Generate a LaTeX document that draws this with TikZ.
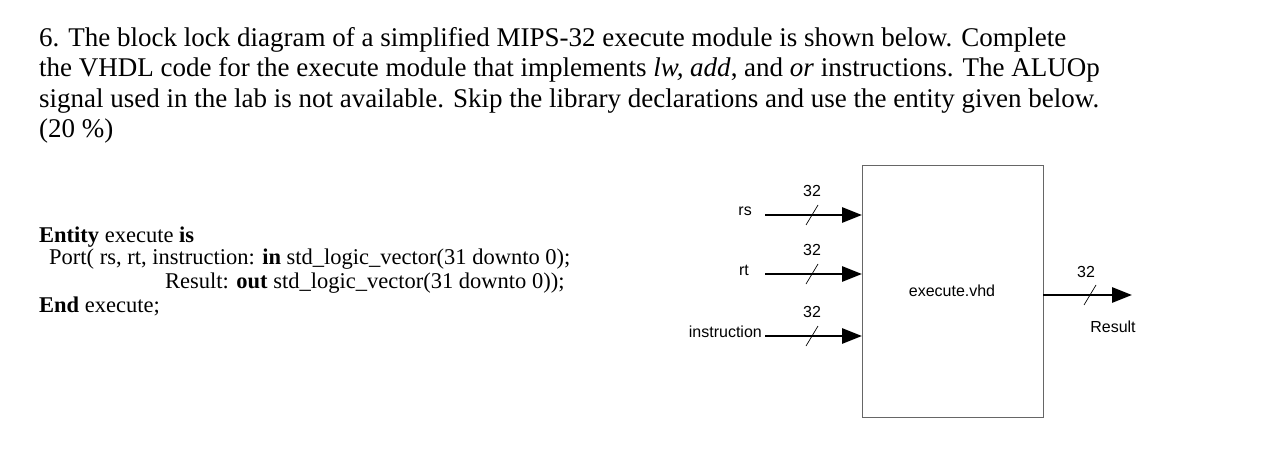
\documentclass[tikz,border=0pt]{standalone}
\usepackage{fontspec}
\setmainfont{Liberation Serif}
\setsansfont{Liberation Sans}
\usetikzlibrary{arrows.meta}
\begin{document}
\begin{tikzpicture}[x=1pt,y=-1pt,
  sig/.style={line width=2.8pt,-{Triangle[length=20pt,width=15pt]}},
  lab/.style={font=\sffamily\fontsize{16}{16}\selectfont,inner sep=1pt},
  code/.style={font=\fontsize{22.5}{22.5}\selectfont,anchor=base west,inner sep=0pt}]
\useasboundingbox (0,0) rectangle (1268,464);
\node[anchor=north west,inner sep=0pt,align=left,font=\fontsize{27}{30.5}\selectfont] (title) at (39,27)
{6. The block lock diagram of a simplified MIPS-32 execute module is shown below. Complete\\
the VHDL code for the execute module that implements \textit{lw, add}, and \textit{or} instructions. The ALUOp\\
signal used in the lab is not available. Skip the library declarations and use the entity given below.\\
(20 \%)};
\node[code] (c1) at (39,242) {\textbf{Entity} execute \textbf{is}};
\node[code] (c2) at (49,264) {Port( rs, rt, instruction: \textbf{in} std\_logic\_vector(31 downto 0);};
\node[code] (c3) at (165,288) {Result: \textbf{out} std\_logic\_vector(31 downto 0));};
\node[code] (c4) at (39,312) {\textbf{End} execute;};
\node[draw=black!60,line width=0.8pt,minimum width=181pt,minimum height=252pt,inner sep=0pt] (box) at (952.5,291) {};
\node[lab] at (952,291) {execute.vhd};
\foreach \n/\y/\t/\xl in {rs/215/rs/753, rt/274/rt/750, ins/336/instruction/763}{
  \coordinate (\n s) at (765,\y);
  \coordinate (\n e) at (862,\y);
  \draw[sig] (\n s) -- (\n e);
  \draw[line width=0.7pt] (806,\y+10) -- (818,\y-10);
  \node[lab] at (812,\y-24) {32};
  \node[lab,anchor=east] at (\xl,\y-4) {\t};
}
\coordinate (os) at (1043,295);
\coordinate (oe) at (1132,295);
\draw[sig] (os) -- (oe);
\draw[line width=0.7pt] (1084,305) -- (1096,285);
\node[lab] at (1086,272) {32};
\node[lab] at (1113,327) {Result};
\end{tikzpicture}
\end{document}
